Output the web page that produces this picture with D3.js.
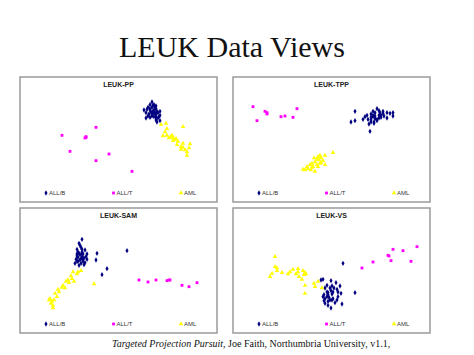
<!DOCTYPE html>
<html>
<head>
<meta charset="utf-8">
<script src="https://cdn.jsdelivr.net/npm/d3@7"></script>
<style>
  body { margin: 0; background: #fff; }
  svg { display: block; }
</style>
</head>
<body>
<svg id="main-svg" width="474" height="355"></svg>
<script>
// class names, in legend order
var classes = ["ALL/B", "ALL/T", "AML"];

// LEUK-PP projection
var ppAllB = [[61,76],[60,74],[62,74],[59,72],[61,72],[63,73],[57,70],[60,70],[62,70],[63,71],
  [65,69],[58,68],[60.5,68.5],[62,69],[64,68],[61,67],[63,66.5],[59,65.5],[65,66],[58,64],
  [60,64.5],[62,65],[64,64],[63,62.5],[65,62],[61.5,69],[62.5,72],[60,71],[63.5,69],[61,65.5],
  [63,64.5],[59.5,67],[62,67.5],[64.5,65],[58.5,70.5],[63,68],[61.5,73.5],[63.5,61]];
var ppAllT = [[16,51],[27.5,49],[28,50],[33,57],[20,39],[39.5,37],[33,32],[51,24],[28,49.5]];
var ppAml = [[65.5,59],[68,60],[68.5,56],[76.5,57.5],[66.5,50.5],[68.5,51],[70.5,50],[71.5,49],
  [72.5,48],[69.5,49],[74,46.5],[73.5,44],[75.5,42.5],[76.5,45],[77.5,40],[78.5,38.5],[80,44.5],
  [79.5,41.5],[78.5,36],[75.5,40.5],[73,48.5],[71,51],[67.5,53.5],[76.5,42],[71.5,47]];

// LEUK-TPP projection
var tppAllB = [[65,69],[63,61],[65,62],[69,63],[71,66],[73,67],[74,65],[75,68],[76,71],[77,66],
  [77.5,68],[78,64.5],[79,67.5],[81,68],[82.5,67.5],[84,68],[84,65.5],[81,64],[79.5,65.5],[73,62.5],
  [74.5,61],[72,59.5],[72.5,54],[71.5,63],[76,63],[77,64],[74,69],[73,64.5],[75,65.5],[76,62],
  [78,66],[73,61],[74,66],[75,63.5],[74.5,60],[79,69],[70,65],[77,69.5]];
var tppAllT = [[14,72.5],[20,69],[21,67],[16,62],[28,65],[30,65.5],[34,64.5],[36,71],[21,68]];
var tppAml = [[54,38],[50,36],[47.5,36],[46.5,35],[48,34],[46,33],[45,31],[49,32],[50,29],[47.5,30],
  [43.5,30],[42.5,29],[44,27.5],[41,27.5],[41.5,26],[39,25.5],[40,25],[43,25],[45,24],[46.5,27.5],
  [48,30.5],[46,29],[44.5,34],[47,32.5],[43.5,27]];

// LEUK-SAM projection
var samAllB = [[26,75.5],[24.5,72.5],[25.5,69.5],[23.5,68],[24,66],[26,66],[27.5,67.5],[23.5,64.5],
  [25,64],[26.5,64.5],[28.5,64.5],[24,62],[25.5,61],[27,61.5],[28.5,60.5],[22.5,57.5],[24,59],
  [26.5,59],[24.5,56],[27.5,58],[23,60.5],[25,60],[26.5,60.5],[26,62.5],[24.5,65],[26,68],
  [33.5,65],[33,60],[48.5,67],[38.5,53.5],[36,49],[23.5,63],[28,62.5],[25.5,57.5],[27,56.5],
  [23.5,59],[26,65],[25,71]];
var samAllT = [[54.5,45],[59,43.5],[63,45],[68.5,44.5],[70,45],[76,41],[79.5,40],[83.5,43],[69.5,45]];
var samAml = [[21.5,51],[24,51],[25.5,52],[23.5,49.5],[21,46],[19,45],[18,44],[19.5,43],[22,44],
  [16.5,41],[16,39.5],[17.5,39],[14,38],[14.5,36],[12.5,35],[13.5,32.5],[10,31],[9.5,30],[11,29],
  [10.5,27.5],[11.5,26],[11.5,24],[12,30],[32,42],[20.5,48]];

// LEUK-VS projection
var vsAllB = [[59,57.5],[48,45],[49,45.5],[53,44.5],[55.5,43],[51,41],[53.5,40.5],[57.5,40.5],
  [50,39],[52.5,39],[54.5,39],[51,36],[53,37],[56.5,36],[58,35],[65,35.5],[49.5,34],[51.5,34],
  [53.5,34.5],[50,31],[52,32],[54,31],[56,30],[49.5,29.5],[51.5,29],[53.5,30],[55,28],[58.5,27],
  [53,24],[49,32.5],[51,32.5],[52.5,30],[54,36],[56.5,32.5],[50,27.5],[51.5,26],[56,38],[51.5,35.5]];
var vsAllT = [[68.5,54],[74,58.5],[81.5,63.5],[83,59.5],[84,68],[89,67],[93,59],[96,70],[82,63]];
var vsAml = [[25,62.5],[25,55],[26,54],[26,52],[23.5,50],[22.5,47.5],[28.5,50.5],[32.5,51],[34,53],
  [36.5,53.5],[36.5,51],[35.5,49.5],[39,52],[40,50.5],[40.5,49.5],[39.5,49],[38.5,45.5],[40,41],
  [44.5,42.5],[45,40],[46.5,44],[48.5,39],[40,35],[37,47.5],[31.5,49.5]];

var colors = ["#000080", "#ff00ff", "#ffff00"];
var symbols = [d3.symbolDiamond, d3.symbolSquare, d3.symbolTriangle];
var sizes = [8, 8, 9];

var panels = [
  {name: "LEUK-PP",  x: 20,  y: 77,  w: 197, h: 125, xd: [-5, 93.5], yd: [1, 94.75],    sets: [ppAllB, ppAllT, ppAml]},
  {name: "LEUK-TPP", x: 233, y: 77,  w: 197, h: 125, xd: [4, 102.5], yd: [1, 94.75],    sets: [tppAllB, tppAllT, tppAml]},
  {name: "LEUK-SAM", x: 20,  y: 208, w: 197, h: 125, xd: [-5, 93.5], yd: [5.25, 99],    sets: [samAllB, samAllT, samAml]},
  {name: "LEUK-VS",  x: 233, y: 208, w: 197, h: 125, xd: [4, 102.5], yd: [5.25, 99],    sets: [vsAllB, vsAllT, vsAml]}
];

var svg = d3.select("#main-svg");

svg.append("text")
  .attr("x", 232).attr("y", 57)
  .attr("text-anchor", "middle")
  .style("font-family", "'Liberation Serif', 'Times New Roman', serif")
  .style("font-size", "30px")
  .style("fill", "#111")
  .text("LEUK Data Views");

var foot = svg.append("text")
  .attr("x", 112).attr("y", 347)
  .style("font-family", "'Liberation Serif', 'Times New Roman', serif")
  .style("font-size", "10px")
  .style("fill", "#111");
foot.append("tspan").style("font-style", "italic").text("Targeted Projection Pursuit");
foot.append("tspan").text(", Joe Faith, Northumbria University, v1.1,");

panels.forEach(function(p) {
  var g = svg.append("g").attr("transform", "translate(" + p.x + "," + p.y + ")");

  g.append("rect")
    .attr("width", p.w).attr("height", p.h)
    .style("fill", "#fff")
    .style("stroke", "#9a9a9a")
    .style("stroke-width", "1.5px");

  g.append("text")
    .attr("x", p.w / 2).attr("y", 10)
    .attr("text-anchor", "middle")
    .style("font-family", "'Liberation Sans', Arial, sans-serif")
    .style("font-weight", "bold")
    .style("font-size", "7px")
    .style("fill", "#222")
    .text(p.name);

  var x = d3.scaleLinear().domain(p.xd).range([0, p.w]);
  var y = d3.scaleLinear().domain(p.yd).range([p.h, 0]);

  p.sets.forEach(function(set, i) {
    g.append("g").selectAll("path")
      .data(set).enter().append("path")
      .attr("d", d3.symbol().type(symbols[i]).size(sizes[i]))
      .attr("transform", function(d) { return "translate(" + x(d[0]) + "," + y(d[1]) + ")"; })
      .style("fill", colors[i]);
  });

  var leg = d3.scalePoint().domain(classes).range([26, 161]);
  var item = g.append("g").selectAll("g")
    .data(classes).enter().append("g")
    .attr("transform", function(d) { return "translate(" + leg(d) + "," + (p.h - 9) + ")"; });
  item.append("path")
    .attr("d", function(d, i) { return d3.symbol().type(symbols[i]).size(sizes[i])(); })
    .style("fill", function(d, i) { return colors[i]; });
  item.append("text")
    .attr("x", 3).attr("y", 2)
    .style("font-family", "'Liberation Sans', Arial, sans-serif")
    .style("font-size", "6px")
    .style("fill", "#333")
    .text(function(d) { return d; });
});
</script>
</body>
</html>
